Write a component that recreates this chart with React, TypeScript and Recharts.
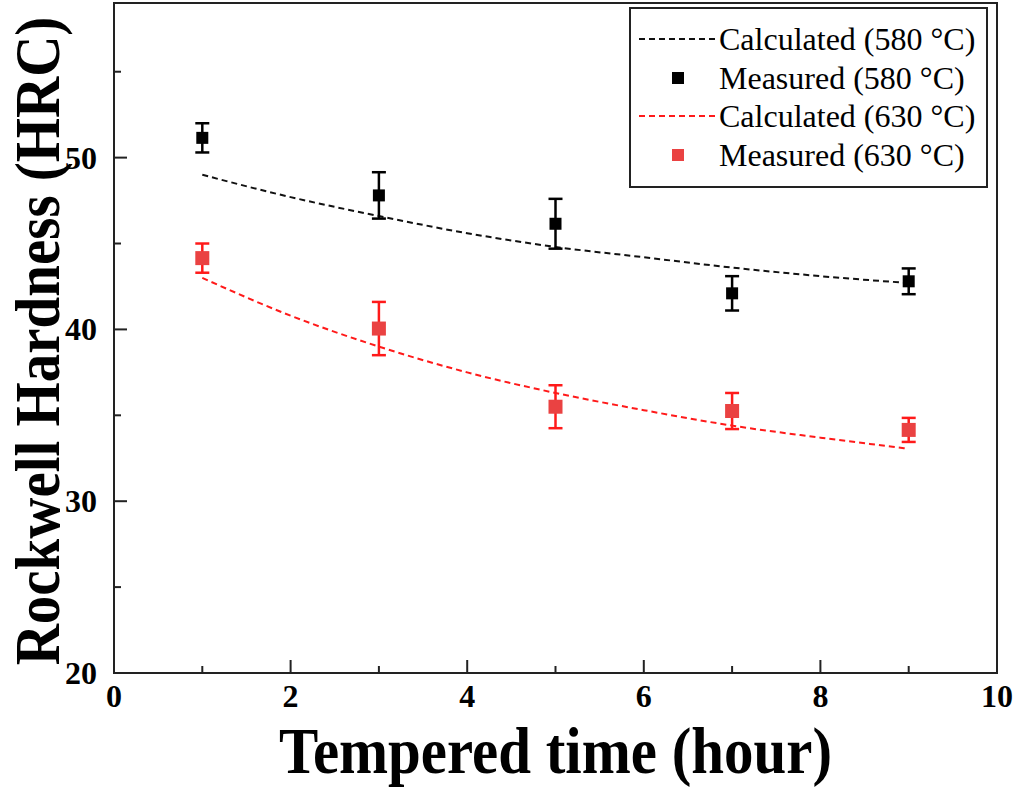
import React from "react";
import {
  ComposedChart,
  Line,
  Scatter,
  ErrorBar,
  XAxis,
  YAxis,
  Legend,
  ReferenceArea,
} from "recharts";

const FONT = "'Times New Roman', 'Liberation Serif', serif";

// measured points (hours) with error bars
const hours = [1, 3, 5, 7, 9];
const measured580 = [51.15, 47.8, 46.15, 42.1, 42.8];
const err580 = [0.85, 1.35, 1.45, 1.0, 0.75];
const measured630 = [44.15, 40.05, 35.5, 35.25, 34.15];
const err630 = [0.85, 1.55, 1.25, 1.05, 0.7];

// calculated curves
const calcHours = [1, 2, 3, 4, 5, 6, 7, 8, 9];
const calc580 = [49.0, 47.7, 46.6, 45.6, 44.8, 44.2, 43.6, 43.1, 42.7];
const calc630 = [43.0, 40.8, 39.0, 37.5, 36.3, 35.3, 34.4, 33.7, 33.05];

const xTicks = [0, 1, 2, 3, 4, 5, 6, 7, 8, 9, 10];
const yTicks = [20, 25, 30, 35, 40, 45, 50, 55];

const BLACK = "#111";
const RED = "#ff1a1a";
const RED_FILL = "#ea4242";

const toPoints = (xs: number[], ys: number[], errs?: number[]) =>
  xs.map((x, i) => ({ x, y: ys[i], err: errs ? errs[i] : 0 }));

const legendItems = [
  { label: "Calculated (580 °C)", kind: "line", color: BLACK },
  { label: "Measured (580 °C)", kind: "square", color: "#000" },
  { label: "Calculated (630 °C)", kind: "line", color: RED },
  { label: "Measured (630 °C)", kind: "square", color: RED_FILL },
];

function XTick(props: any) {
  const { x, y, payload } = props;
  const major = payload.value % 2 === 0;
  return (
    <g>
      <line x1={x} x2={x} y1={y} y2={y - (major ? 13 : 7)} stroke="#222" strokeWidth={2} />
      {major && (
        <text x={x} y={y + 34} textAnchor="middle" fontFamily={FONT} fontWeight="bold" fontSize={32} fill="#000">
          {payload.value}
        </text>
      )}
    </g>
  );
}

function YTick(props: any) {
  const { x, y, payload } = props;
  const major = payload.value % 10 === 0;
  return (
    <g>
      <line x1={x} x2={x + (major ? 13 : 7)} y1={y} y2={y} stroke="#222" strokeWidth={2} />
      {major && (
        <text x={x - 17} y={y + 11} textAnchor="end" fontFamily={FONT} fontWeight="bold" fontSize={32} fill="#000">
          {payload.value}
        </text>
      )}
    </g>
  );
}

function Square(size: number, color: string) {
  return (props: any) => {
    const { cx, cy } = props;
    if (cx == null || cy == null) return <g />;
    return <rect x={cx - size / 2} y={cy - size / 2} width={size} height={size} fill={color} />;
  };
}

function LegendBox() {
  return (
    <div
      style={{
        width: 355,
        height: 166,
        border: "2px solid #222",
        background: "#fff",
        paddingTop: 11,
        boxSizing: "content-box",
        fontFamily: FONT,
      }}
    >
      {legendItems.map((item) => (
        <div key={item.label} style={{ display: "flex", alignItems: "center", height: 38.5 }}>
          <svg width={88} height={38} style={{ flexShrink: 0 }}>
            {item.kind === "line" ? (
              <line x1={8} x2={84} y1={19} y2={19} stroke={item.color} strokeWidth={2} strokeDasharray="6 4" />
            ) : (
              <rect x={41} y={13} width={12} height={12} fill={item.color} />
            )}
          </svg>
          <span style={{ fontSize: 32, color: "#000", whiteSpace: "nowrap", lineHeight: 1 }}>{item.label}</span>
        </div>
      ))}
    </div>
  );
}

export default function App() {
  return (
    <div style={{ position: "absolute", left: 0, top: 0, width: 1016, height: 788, background: "#fff" }}>
      <ComposedChart width={1016} height={788} margin={{ top: 3, right: 19, bottom: 0, left: 0 }}>
        <XAxis
          type="number"
          dataKey="x"
          domain={[0, 10]}
          ticks={xTicks}
          interval={0}
          allowDataOverflow
          height={115}
          tickSize={0}
          tickMargin={0}
          tickLine={false}
          axisLine={{ stroke: "#222", strokeWidth: 2 }}
          tick={XTick}
          label={{
            content: (p: any) => {
              const vb = p.viewBox;
              return (
                <text
                  x={vb.x + vb.width / 2}
                  y={773}
                  textAnchor="middle"
                  fontFamily={FONT}
                  fontWeight="bold"
                  fontSize={66}
                  textLength={553}
                  lengthAdjust="spacingAndGlyphs"
                  fill="#000"
                >
                  Tempered time (hour)
                </text>
              );
            },
          }}
        />
        <YAxis
          type="number"
          dataKey="y"
          domain={[20, 59]}
          ticks={yTicks}
          interval={0}
          allowDataOverflow
          width={114}
          tickSize={0}
          tickMargin={0}
          tickLine={false}
          axisLine={{ stroke: "#222", strokeWidth: 2 }}
          tick={YTick}
          label={{
            content: (p: any) => {
              const vb = p.viewBox;
              const cy = vb.y + vb.height / 2 + 3;
              return (
                <g transform={`translate(59 ${cy}) rotate(-90) scale(0.89 1)`}>
                  <text
                    x={0}
                    y={0}
                    textAnchor="middle"
                    fontFamily={FONT}
                    fontWeight="bold"
                    fontSize={64}
                    fill="#000"
                  >
                    Rockwell Hardness (HRC)
                  </text>
                </g>
              );
            },
          }}
        />
        <ReferenceArea x1={0} x2={10} y1={20} y2={59} fill="none" stroke="#222" strokeWidth={2} />
        <Line
          data={toPoints(calcHours, calc580)}
          dataKey="y"
          type="monotone"
          stroke={BLACK}
          strokeWidth={2}
          strokeDasharray="6 4"
          dot={false}
          activeDot={false}
          isAnimationActive={false}
        />
        <Line
          data={toPoints(calcHours, calc630)}
          dataKey="y"
          type="monotone"
          stroke={RED}
          strokeWidth={2}
          strokeDasharray="6 4"
          dot={false}
          activeDot={false}
          isAnimationActive={false}
        />
        <Scatter data={toPoints(hours, measured580, err580)} dataKey="y" shape={Square(12, "#000")} isAnimationActive={false}>
          <ErrorBar dataKey="err" direction="y" width={7} stroke="#000" strokeWidth={2.5} />
        </Scatter>
        <Scatter data={toPoints(hours, measured630, err630)} dataKey="y" shape={Square(14, RED_FILL)} isAnimationActive={false}>
          <ErrorBar dataKey="err" direction="y" width={7} stroke={RED} strokeWidth={2.5} />
        </Scatter>
        <Legend
          layout="vertical"
          align="center"
          verticalAlign="middle"
          wrapperStyle={{ left: 629, top: 7, width: 359, height: 181 }}
          content={() => <LegendBox />}
        />
      </ComposedChart>
    </div>
  );
}
